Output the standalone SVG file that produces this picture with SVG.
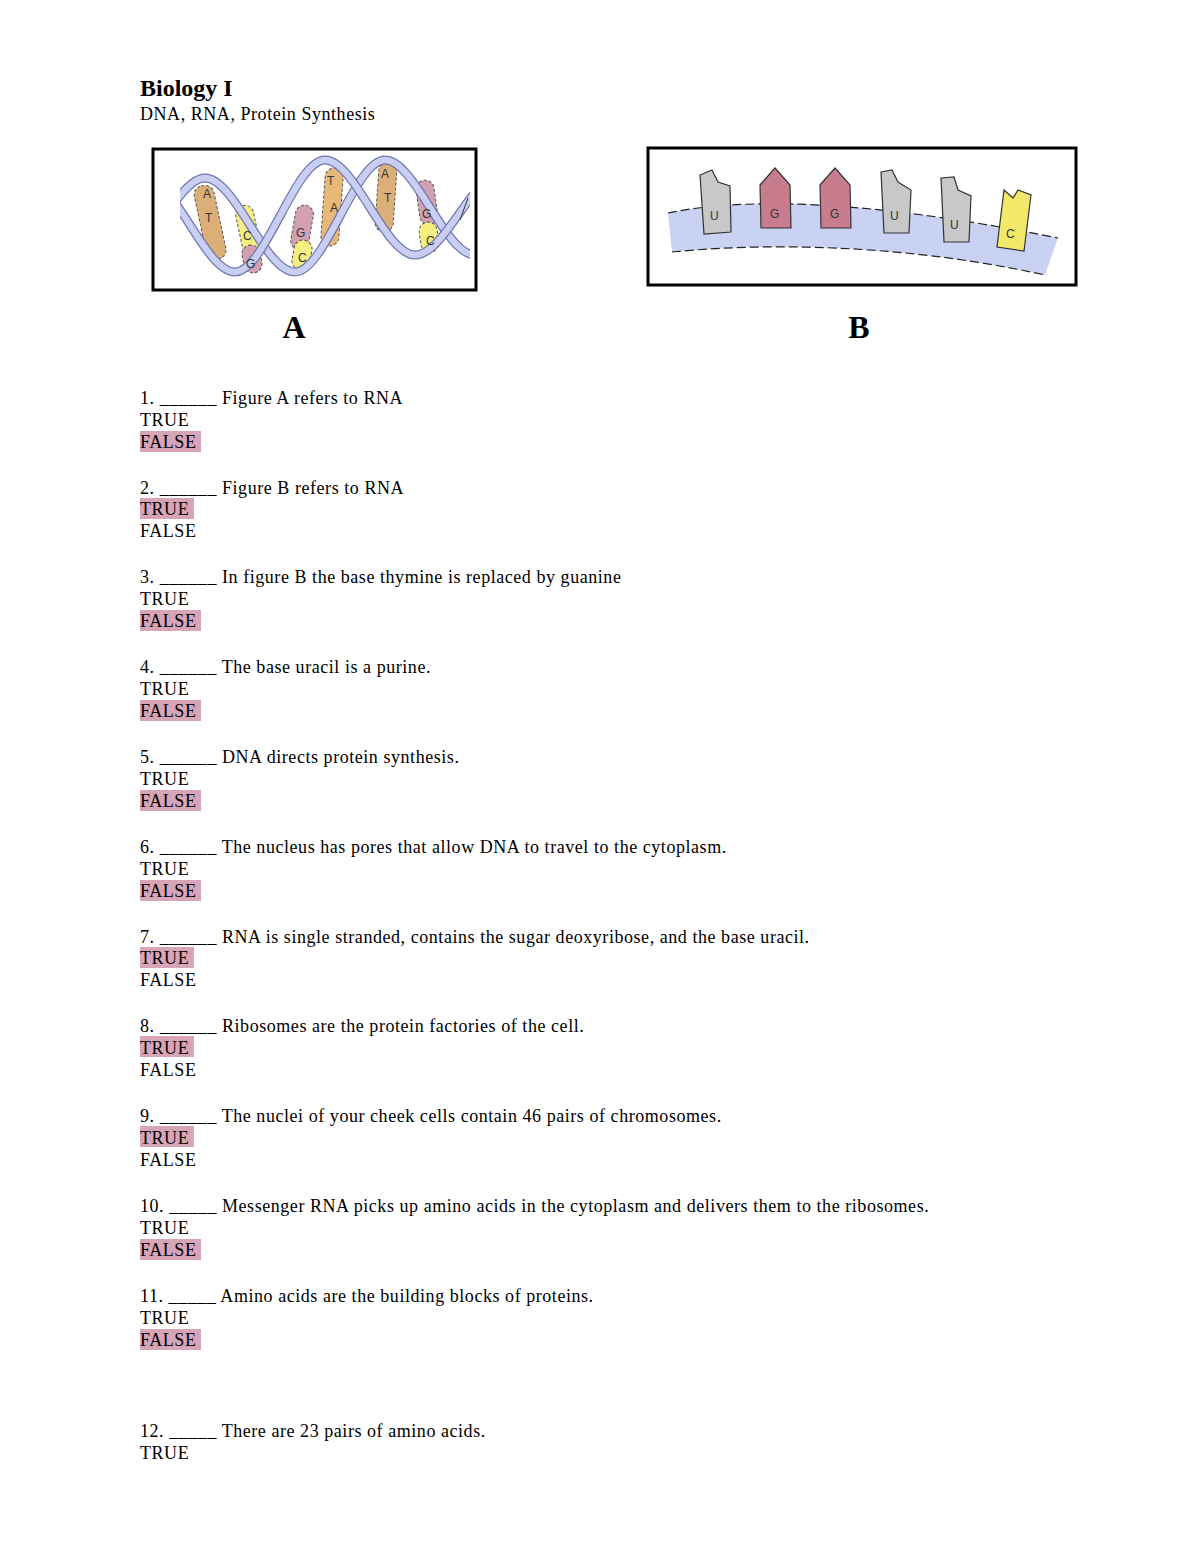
<svg xmlns="http://www.w3.org/2000/svg" width="1200" height="1553" viewBox="0 0 1200 1553">
<style>
text{font-family:"Liberation Serif","Times New Roman",serif;fill:#000}
.t{font-size:18px;letter-spacing:0.55px}
.hl{fill:#d8a4b8}
.frame{fill:#fff;stroke:#000;stroke-width:3}
.so{fill:none;stroke:#6f76ad;stroke-width:9;stroke-linecap:round}
.si{fill:none;stroke:#c9cff3;stroke-width:6.5;stroke-linecap:round}
.bl{font-size:12px;font-family:"Liberation Sans",sans-serif;fill:#333}
.bp{stroke:#555;stroke-width:1;stroke-dasharray:3 2}
</style>
<defs>
<clipPath id="clA"><rect x="180" y="152" width="290" height="135"/></clipPath>
<path id="strand" d="M25,178 C55,178 85,272 115,272 C145,272 175,178 205,178 C235,178 265,272 295,272 C325,272 355,160 385,160 C415,160 445,255 475,255 C505,255 535,170 565,170"/>
</defs>
<rect width="1200" height="1553" fill="#fff"/>
<text x="140" y="96" font-size="24" font-weight="bold">Biology I</text>
<text x="140" y="120" class="t">DNA, RNA, Protein Synthesis</text>

<g id="figA">
<rect class="frame" x="153" y="149" width="323" height="141"/>
<g class="bp">
<rect x="200" y="185" width="20" height="75" rx="9" fill="#dcae78" transform="rotate(-12 210 222)"/>
<rect x="239" y="205" width="18" height="50" rx="9" fill="#f5ee80" transform="rotate(-12 248 230)"/>
<rect x="243" y="245" width="18" height="28" rx="9" fill="#d2a0b0" transform="rotate(-12 252 259)"/>
<rect x="293" y="205" width="18" height="45" rx="9" fill="#d2a0b0" transform="rotate(10 302 228)"/>
<rect x="293" y="240" width="18" height="30" rx="9" fill="#f5ee80" transform="rotate(10 302 255)"/>
<rect x="323" y="168" width="18" height="78" rx="9" fill="#e7b878" transform="rotate(4 332 207)"/>
<rect x="377" y="162" width="18" height="70" rx="9" fill="#dcae78" transform="rotate(4 386 197)"/>
<rect x="418" y="180" width="18" height="45" rx="9" fill="#d2a0b0" transform="rotate(-8 427 203)"/>
<rect x="420" y="222" width="18" height="30" rx="9" fill="#f5ee80" transform="rotate(-8 429 237)"/>
</g>
<g clip-path="url(#clA)">
<use href="#strand" class="so"/>
<use href="#strand" class="si"/>
<use href="#strand" class="so" transform="translate(-60,0)"/>
<use href="#strand" class="si" transform="translate(-60,0)"/>
</g>
<line x1="460" y1="220" x2="468" y2="198" stroke="#333" stroke-width="1"/>
<text class="bl" x="203" y="198">A</text><text class="bl" x="205" y="222">T</text>
<text class="bl" x="243" y="240">C</text><text class="bl" x="246" y="268">G</text>
<text class="bl" x="296" y="237">G</text><text class="bl" x="298" y="262">C</text>
<text class="bl" x="327" y="185">T</text><text class="bl" x="330" y="212">A</text>
<text class="bl" x="381" y="178">A</text><text class="bl" x="384" y="202">T</text>
<text class="bl" x="422" y="218">G</text><text class="bl" x="426" y="245">C</text>
</g>

<g id="figB">
<rect class="frame" x="648" y="148" width="428" height="137"/>
<path d="M668,213 C740,198 860,198 1058,238 L1045,275 C900,243 760,243 672,252 Z" fill="#c9d2f2"/>
<path d="M668,213 C740,198 860,198 1058,238" fill="none" stroke="#222" stroke-width="1.2" stroke-dasharray="9 4"/>
<path d="M672,252 C760,243 900,243 1045,275" fill="none" stroke="#222" stroke-width="1.2" stroke-dasharray="9 4"/>
<g stroke="#333" stroke-width="1.2">
<path d="M700,175 L712,170 L718,182 L730,186 L731,232 L704,234 Z" fill="#c8c8c8"/>
<path d="M760,185 L775,168 L790,185 L791,228 L761,228 Z" fill="#c87d8f"/>
<path d="M820,185 L835,168 L850,185 L851,228 L821,228 Z" fill="#c87d8f"/>
<path d="M881,172 L892,170 L898,182 L911,190 L909,233 L884,233 Z" fill="#c8c8c8"/>
<path d="M941,178 L954,177 L958,190 L971,196 L969,242 L944,242 Z" fill="#c8c8c8"/>
<path d="M1004,190 L1013,198 L1018,190 L1031,195 L1024,251 L997,247 Z" fill="#f2e86a"/>
</g>
<text class="bl" x="710" y="220" font-size="15">U</text>
<text class="bl" x="770" y="218" font-size="15">G</text>
<text class="bl" x="830" y="218" font-size="15">G</text>
<text class="bl" x="890" y="220" font-size="15">U</text>
<text class="bl" x="950" y="229" font-size="15">U</text>
<text class="bl" x="1006" y="238" font-size="15">C</text>
</g>

<text x="294" y="338" font-size="32" font-weight="bold" text-anchor="middle">A</text>
<text x="859" y="338" font-size="32" font-weight="bold" text-anchor="middle">B</text>

<g>
<rect class="hl" x="140" y="431" width="61" height="21"/>
<rect class="hl" x="140" y="498" width="54" height="21"/>
<rect class="hl" x="140" y="610" width="61" height="21"/>
<rect class="hl" x="140" y="700" width="61" height="21"/>
<rect class="hl" x="140" y="790" width="61" height="21"/>
<rect class="hl" x="140" y="880" width="61" height="21"/>
<rect class="hl" x="140" y="947" width="54" height="21"/>
<rect class="hl" x="140" y="1036" width="54" height="21"/>
<rect class="hl" x="140" y="1126" width="54" height="21"/>
<rect class="hl" x="140" y="1239" width="61" height="21"/>
<rect class="hl" x="140" y="1329" width="61" height="21"/>

<text class="t" x="140" y="404">1. ______ Figure A refers to RNA</text>
<text class="t" x="140" y="426">TRUE</text><text class="t" x="140" y="448">FALSE</text>
<text class="t" x="140" y="494">2. ______ Figure B refers to RNA</text>
<text class="t" x="140" y="515">TRUE</text><text class="t" x="140" y="537">FALSE</text>
<text class="t" x="140" y="583">3. ______ In figure B the base thymine is replaced by guanine</text>
<text class="t" x="140" y="605">TRUE</text><text class="t" x="140" y="627">FALSE</text>
<text class="t" x="140" y="673">4. ______ The base uracil is a purine.</text>
<text class="t" x="140" y="695">TRUE</text><text class="t" x="140" y="717">FALSE</text>
<text class="t" x="140" y="763">5. ______ DNA directs protein synthesis.</text>
<text class="t" x="140" y="785">TRUE</text><text class="t" x="140" y="807">FALSE</text>
<text class="t" x="140" y="853">6. ______ The nucleus has pores that allow DNA to travel to the cytoplasm.</text>
<text class="t" x="140" y="875">TRUE</text><text class="t" x="140" y="897">FALSE</text>
<text class="t" x="140" y="943">7. ______ RNA is single stranded, contains the sugar deoxyribose, and the base uracil.</text>
<text class="t" x="140" y="964">TRUE</text><text class="t" x="140" y="986">FALSE</text>
<text class="t" x="140" y="1032">8. ______ Ribosomes are the protein factories of the cell.</text>
<text class="t" x="140" y="1054">TRUE</text><text class="t" x="140" y="1076">FALSE</text>
<text class="t" x="140" y="1122">9. ______ The nuclei of your cheek cells contain 46 pairs of chromosomes.</text>
<text class="t" x="140" y="1144">TRUE</text><text class="t" x="140" y="1166">FALSE</text>
<text class="t" x="140" y="1212">10. _____ Messenger RNA picks up amino acids in the cytoplasm and delivers them to the ribosomes.</text>
<text class="t" x="140" y="1234">TRUE</text><text class="t" x="140" y="1256">FALSE</text>
<text class="t" x="140" y="1302">11. _____ Amino acids are the building blocks of proteins.</text>
<text class="t" x="140" y="1324">TRUE</text><text class="t" x="140" y="1346">FALSE</text>
<text class="t" x="140" y="1437">12. _____ There are 23 pairs of amino acids.</text>
<text class="t" x="140" y="1459">TRUE</text>
</g>
</svg>
